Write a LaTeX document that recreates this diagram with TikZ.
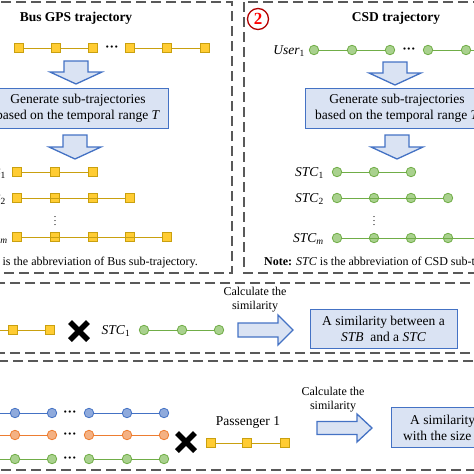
\documentclass[tikz,border=0pt]{standalone}
\usepackage{fontspec}
\setmainfont{Liberation Serif}
\usepackage{tikz}
\usetikzlibrary{arrows.meta}

\definecolor{busfill}{HTML}{FFCC33}
\definecolor{busedge}{HTML}{C9A00F}
\definecolor{csdfill}{HTML}{A9D18E}
\definecolor{csdedge}{HTML}{70AD47}
\definecolor{bluefill}{HTML}{8FAADC}
\definecolor{blueedge}{HTML}{4472C4}
\definecolor{orangefill}{HTML}{F4B183}
\definecolor{orangeedge}{HTML}{ED7D31}
\definecolor{boxfill}{HTML}{DAE3F3}
\definecolor{boxedge}{HTML}{4472C4}

\begin{document}
\begin{tikzpicture}[x=1pt, y=-1pt,
    every node/.style={font=\fontsize{13.5}{16}\selectfont, inner sep=1pt},
    dashframe/.style={draw=black!65, line width=1.3pt, dash pattern=on 10pt off 5pt},
    busstop/.style={draw=busedge, fill=busfill, minimum size=9pt, inner sep=0pt, line width=0.8pt},
    csdstop/.style={circle, draw=csdedge, fill=csdfill, minimum size=9.5pt, inner sep=0pt, line width=0.8pt},
    bluestop/.style={csdstop, draw=blueedge, fill=bluefill},
    orangestop/.style={csdstop, draw=orangeedge, fill=orangefill},
    busline/.style={draw=busedge, line width=1pt},
    csdline/.style={draw=csdedge, line width=1pt},
    procbox/.style={draw=boxedge, fill=boxfill, line width=0.9pt, align=center},
    blockarrow/.style={draw=boxedge, fill=boxfill, line width=1.3pt, line join=miter},
    cross/.style={line width=5.5pt, black},
    dotstext/.style={font=\fontsize{13.5}{16}\selectfont\bfseries, inner sep=0pt},
    calctext/.style={font=\fontsize{12}{14}\selectfont, align=center},
    notetext/.style={font=\fontsize{12}{14}\selectfont}]
    \useasboundingbox (0,0) rectangle (474,474);

    % Rahmen
    \draw[dashframe] (-10,2) rectangle (232,273);
    \draw[dashframe] (244,2) rectangle (490,273);
    \draw[dashframe] (-10,283) rectangle (490,353);
    \draw[dashframe] (-10,361) rectangle (490,470);

    % Teil 1: Bus GPS
    \node[font=\fontsize{13.5}{16}\selectfont\bfseries] (bustitle) at (76,18) {Bus GPS trajectory};
    \foreach \x [count=\i] in {19,56,93,130,167,205}
        \node[busstop] (bus\i) at (\x,48) {};
    \draw[busline] (bus1) -- (bus2) -- (bus3);
    \draw[busline] (bus4) -- (bus5) -- (bus6);
    \node[dotstext] (busdots) at (112,49) {···};

    \draw[blockarrow] (64,61) -- ++(24,0) -- ++(0,11) -- ++(14,0) -- ++(-26,12) -- ++(-26,-12) -- ++(14,0) -- cycle;
    \node[procbox, minimum width=180pt, minimum height=40pt] (busgen) at (78,108)
        {Generate sub-trajectories\\based on the temporal range \textit{T}};
    \draw[blockarrow] (63,135) -- ++(24,0) -- ++(0,12) -- ++(14,0) -- ++(-26,12) -- ++(-26,-12) -- ++(14,0) -- cycle;

    \foreach \x [count=\i] in {17,55,93}
        \node[busstop] (stbA\i) at (\x,172) {};
    \foreach \x [count=\i] in {17,55,93,130}
        \node[busstop] (stbB\i) at (\x,198) {};
    \foreach \x [count=\i] in {17,55,93,130,167}
        \node[busstop] (stbM\i) at (\x,237) {};
    \draw[busline] (stbA1) -- (stbA2) -- (stbA3);
    \draw[busline] (stbB1) \foreach \i in {2,3,4} { -- (stbB\i) };
    \draw[busline] (stbM1) \foreach \i in {2,...,5} { -- (stbM\i) };
    \node[anchor=east, inner sep=0pt] (stbAlbl) at (6,173) {\textit{STB}\textsubscript{1}};
    \node[anchor=east, inner sep=0pt] (stbBlbl) at (6,199) {\textit{STB}\textsubscript{2}};
    \node[anchor=east, inner sep=0pt] (stbMlbl) at (8,238) {\textit{STB}\textsubscript{\textit{m}}};
    \node[font=\fontsize{10}{11}\selectfont, inner sep=0pt] (stbdots) at (55,218) {$\vdots$};
    \node[notetext, anchor=east] (busnote) at (199,263)
        {\textbf{Note:} \textit{STB} is the abbreviation of Bus sub-trajectory.};

    % Teil 2: CSD
    \node[circle, draw=red!70!black, line width=1.3pt, minimum size=21pt, inner sep=0pt,
        text=red, font=\fontsize{17}{18}\selectfont\bfseries] (steptwo) at (258,19) {2};
    \node[font=\fontsize{13.5}{16}\selectfont\bfseries] (csdtitle) at (396,18) {CSD trajectory};
    \foreach \x [count=\i] in {314,352,390,428,466,504}
        \node[csdstop] (user\i) at (\x,50) {};
    \draw[csdline] (user1) -- (user2) -- (user3);
    \draw[csdline] (user4) -- (user5) -- (user6);
    \node[dotstext] (userdots) at (409,51) {···};
    \node[anchor=east, inner sep=0pt] (userlbl) at (305,51) {\textit{User}\textsubscript{1}};

    \draw[blockarrow] (383,62) -- ++(24,0) -- ++(0,11) -- ++(14,0) -- ++(-26,12) -- ++(-26,-12) -- ++(14,0) -- cycle;
    \node[procbox, minimum width=184pt, minimum height=40pt] (csdgen) at (397,108)
        {Generate sub-trajectories\\based on the temporal range \textit{T}};
    \draw[blockarrow] (385,135) -- ++(24,0) -- ++(0,12) -- ++(14,0) -- ++(-26,12) -- ++(-26,-12) -- ++(14,0) -- cycle;

    \foreach \x [count=\i] in {337,374,411}
        \node[csdstop] (stcA\i) at (\x,172) {};
    \foreach \x [count=\i] in {337,374,411,448}
        \node[csdstop] (stcB\i) at (\x,198) {};
    \foreach \x [count=\i] in {337,374,411,448,485}
        \node[csdstop] (stcM\i) at (\x,238) {};
    \draw[csdline] (stcA1) -- (stcA2) -- (stcA3);
    \draw[csdline] (stcB1) \foreach \i in {2,3,4} { -- (stcB\i) };
    \draw[csdline] (stcM1) \foreach \i in {2,...,5} { -- (stcM\i) };
    \node[anchor=east, inner sep=0pt] (stcAlbl) at (324,173) {\textit{STC}\textsubscript{1}};
    \node[anchor=east, inner sep=0pt] (stcBlbl) at (324,199) {\textit{STC}\textsubscript{2}};
    \node[anchor=east, inner sep=0pt] (stcMlbl) at (324,239) {\textit{STC}\textsubscript{\textit{m}}};
    \node[font=\fontsize{10}{11}\selectfont, inner sep=0pt] (stcdots) at (374,218) {$\vdots$};
    \node[notetext, anchor=west] (csdnote) at (263,263)
        {\textbf{Note:} \textit{STC} is the abbreviation of CSD sub-trajectory.};

    % Teil 3: STB x STC
    \foreach \x [count=\i] in {-24,13,50}
        \node[busstop] (pairb\i) at (\x,330) {};
    \draw[busline] (pairb1) -- (pairb2) -- (pairb3);
    \draw[cross] (70,322) -- (88,340) (70,340) -- (88,322);
    \node (pairlbl) at (116,331) {\textit{STC}\textsubscript{1}};
    \foreach \x [count=\i] in {144,182,219}
        \node[csdstop] (pairc\i) at (\x,330) {};
    \draw[csdline] (pairc1) -- (pairc2) -- (pairc3);
    \node[calctext] (calcA) at (255,300) {Calculate the\\similarity};
    \draw[blockarrow] (238,323) -- (278,323) -- (278,315) -- (293,330) -- (278,345) -- (278,337) -- (238,337) -- cycle;
    \node[procbox, minimum width=147pt, minimum height=39pt] (simA) at (383.5,328.5)
        {A similarity between a\\\textit{STB}~~and a \textit{STC}};

    % Teil 4: Passagier
    \foreach \x [count=\i] in {-22,15,52,89,127,164} {
        \node[bluestop] (bl\i) at (\x,413) {};
        \node[orangestop] (or\i) at (\x,435) {};
        \node[csdstop] (gr\i) at (\x,459) {};
    }
    \draw[draw=blueedge, line width=1pt] (bl1) -- (bl2) -- (bl3) (bl4) -- (bl5) -- (bl6);
    \draw[draw=orangeedge, line width=1pt] (or1) -- (or2) -- (or3) (or4) -- (or5) -- (or6);
    \draw[csdline] (gr1) -- (gr2) -- (gr3) (gr4) -- (gr5) -- (gr6);
    \node[dotstext] (bldots) at (70,414) {···};
    \node[dotstext] (ordots) at (70,436) {···};
    \node[dotstext] (grdots) at (70,460) {···};
    \draw[cross] (177,433) -- (195,451) (177,451) -- (195,433);
    \node (paslbl) at (248,422) {Passenger 1};
    \foreach \x [count=\i] in {211,247,285}
        \node[busstop] (pas\i) at (\x,443) {};
    \draw[busline] (pas1) -- (pas2) -- (pas3);
    \node[calctext] (calcB) at (333,400) {Calculate the\\similarity};
    \draw[blockarrow] (317,421.5) -- (357,421.5) -- (357,414) -- (372,428) -- (357,442) -- (357,434.5) -- (317,434.5) -- cycle;
    \node[procbox, minimum width=110pt, minimum height=40pt] (simB) at (446,427) {};
    \node[anchor=base west, inner sep=0pt] (simBa) at (410,424) {A similarity};
    \node[anchor=base west, inner sep=0pt] (simBb) at (403,440) {with the size};
\end{tikzpicture}
\end{document}
